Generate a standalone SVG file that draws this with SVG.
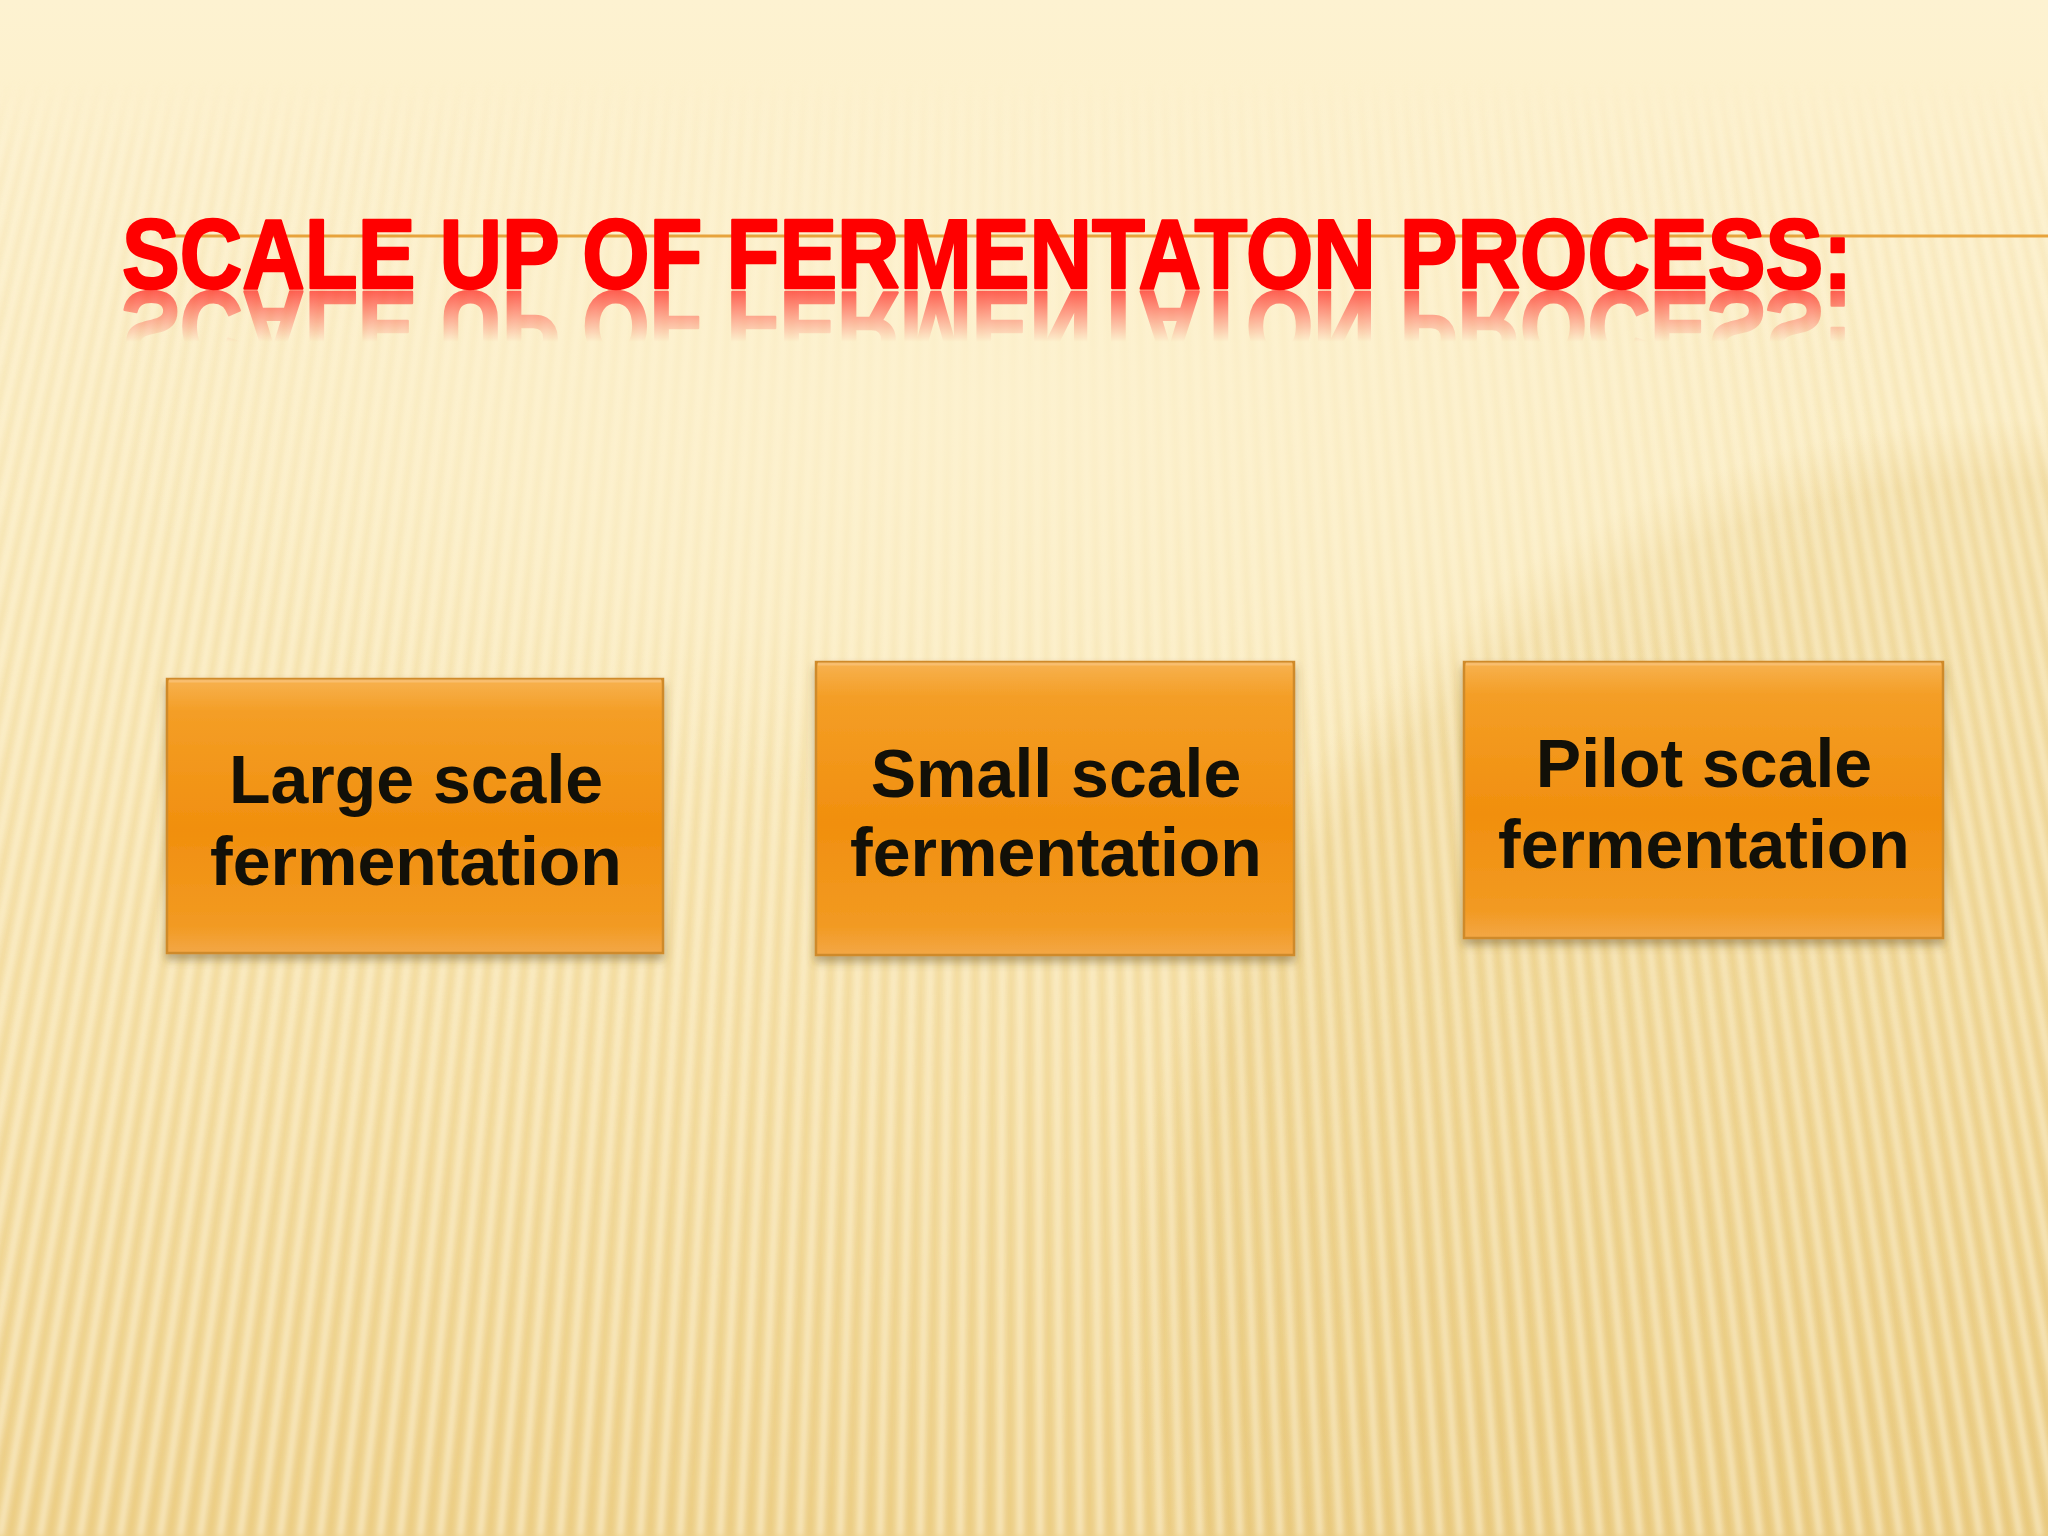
<svg xmlns="http://www.w3.org/2000/svg" xmlns:xlink="http://www.w3.org/1999/xlink" width="2048" height="1536" viewBox="0 0 2048 1536">
  <defs>
    <style>
      .title { font-family: "Liberation Sans", Arial, sans-serif; font-weight: bold; font-size: 99px; fill: #FF0000; stroke: #FF0000; stroke-width: 2.5; stroke-linejoin: round; }
      .lbl { font-family: "Liberation Sans", Arial, sans-serif; font-weight: bold; font-size: 68px; fill: #121008; text-anchor: middle; }
      .box { fill: url(#boxGrad); stroke: #CF8A2C; stroke-width: 2.5; filter: url(#shadow); }
      .hl { fill: none; stroke: #F9C277; stroke-width: 3; opacity: 0.8; }
      .stripes { fill: none; stroke-width: 7; }
    </style>
    <linearGradient id="bgGrad" x1="0" y1="0" x2="0" y2="1">
      <stop offset="0" stop-color="#FDF2D1"/>
      <stop offset="0.06" stop-color="#FDF1CD"/>
      <stop offset="0.35" stop-color="#FAEBBD"/>
      <stop offset="0.7" stop-color="#F5DFA4"/>
      <stop offset="1" stop-color="#EED18A"/>
    </linearGradient>
    <linearGradient id="boxGrad" x1="0" y1="0" x2="0" y2="1">
      <stop offset="0" stop-color="#F7B250"/>
      <stop offset="0.12" stop-color="#F49E26"/>
      <stop offset="0.55" stop-color="#F18F0E"/>
      <stop offset="0.9" stop-color="#F29A22"/>
      <stop offset="1" stop-color="#F3A746"/>
    </linearGradient>
    <linearGradient id="stripeFade" x1="0" y1="0" x2="0" y2="1536" gradientUnits="userSpaceOnUse">
      <stop offset="0" stop-color="#fff" stop-opacity="0"/>
      <stop offset="0.05" stop-color="#fff" stop-opacity="0"/>
      <stop offset="0.1" stop-color="#fff" stop-opacity="0.55"/>
      <stop offset="0.4" stop-color="#fff" stop-opacity="0.75"/>
      <stop offset="1" stop-color="#fff" stop-opacity="1"/>
    </linearGradient>
    <mask id="stripeMask" maskUnits="userSpaceOnUse" x="0" y="0" width="2048" height="1536">
      <rect x="0" y="0" width="2048" height="1536" fill="url(#stripeFade)"/>
    </mask>
    <radialGradient id="wash" cx="1000" cy="400" r="900" gradientUnits="userSpaceOnUse" gradientTransform="translate(1000,400) scale(1,0.45) translate(-1000,-400)">
      <stop offset="0" stop-color="#FDF2D0" stop-opacity="0.8"/>
      <stop offset="0.6" stop-color="#FDF2D0" stop-opacity="0.45"/>
      <stop offset="1" stop-color="#FDF2D0" stop-opacity="0"/>
    </radialGradient>
    <linearGradient id="reflFade" x1="0" y1="291" x2="0" y2="342" gradientUnits="userSpaceOnUse">
      <stop offset="0" stop-color="#fff" stop-opacity="0.6"/>
      <stop offset="1" stop-color="#fff" stop-opacity="0"/>
    </linearGradient>
    <mask id="reflMask" maskUnits="userSpaceOnUse" x="0" y="286" width="2048" height="80">
      <rect x="0" y="286" width="2048" height="80" fill="url(#reflFade)"/>
    </mask>
    <radialGradient id="circGrad" cx="0.5" cy="0.5" r="0.5">
      <stop offset="0.93" stop-color="#E3C270" stop-opacity="0.3"/>
      <stop offset="1" stop-color="#E3C270" stop-opacity="0"/>
    </radialGradient>
    <filter id="shadow" x="-5%" y="-5%" width="110%" height="125%">
      <feDropShadow dx="0" dy="6" stdDeviation="4" flood-color="#6A5228" flood-opacity="0.45"/>
    </filter>
    <filter id="soft" x="-2%" y="-2%" width="104%" height="104%">
      <feGaussianBlur stdDeviation="2.5"/>
    </filter>
    <path id="fan" d="M1 80L-340 1536M16 80L-320 1536M31 80L-300 1536M46 80L-280 1536M61 80L-260 1536M76 80L-240 1536M91 80L-220 1536M106 80L-200 1536M121 80L-180 1536M136 80L-160 1536M151 80L-140 1536M166 80L-120 1536M181 80L-100 1536M196 80L-80 1536M211 80L-60 1536M226 80L-40 1536M241 80L-20 1536M256 80L0 1536M271 80L20 1536M286 80L40 1536M301 80L60 1536M316 80L80 1536M331 80L100 1536M346 80L120 1536M361 80L140 1536M376 80L160 1536M391 80L180 1536M406 80L200 1536M421 80L220 1536M436 80L240 1536M451 80L260 1536M466 80L280 1536M481 80L300 1536M496 80L320 1536M511 80L340 1536M526 80L360 1536M541 80L380 1536M556 80L400 1536M571 80L420 1536M586 80L440 1536M601 80L460 1536M616 80L480 1536M631 80L500 1536M646 80L520 1536M661 80L540 1536M676 80L560 1536M691 80L580 1536M706 80L600 1536M721 80L620 1536M736 80L640 1536M751 80L660 1536M766 80L680 1536M781 80L700 1536M796 80L720 1536M811 80L740 1536M826 80L760 1536M841 80L780 1536M856 80L800 1536M871 80L820 1536M886 80L840 1536M901 80L860 1536M916 80L880 1536M931 80L900 1536M946 80L920 1536M961 80L940 1536M976 80L960 1536M991 80L980 1536M1006 80L1000 1536M1021 80L1020 1536M1036 80L1040 1536M1051 80L1060 1536M1066 80L1080 1536M1081 80L1100 1536M1096 80L1120 1536M1111 80L1140 1536M1126 80L1160 1536M1141 80L1180 1536M1156 80L1200 1536M1171 80L1220 1536M1186 80L1240 1536M1201 80L1260 1536M1216 80L1280 1536M1231 80L1300 1536M1246 80L1320 1536M1261 80L1340 1536M1276 80L1360 1536M1291 80L1380 1536M1306 80L1400 1536M1321 80L1420 1536M1336 80L1440 1536M1351 80L1460 1536M1366 80L1480 1536M1381 80L1500 1536M1396 80L1520 1536M1411 80L1540 1536M1426 80L1560 1536M1441 80L1580 1536M1456 80L1600 1536M1471 80L1620 1536M1486 80L1640 1536M1501 80L1660 1536M1516 80L1680 1536M1531 80L1700 1536M1546 80L1720 1536M1561 80L1740 1536M1576 80L1760 1536M1591 80L1780 1536M1606 80L1800 1536M1621 80L1820 1536M1636 80L1840 1536M1651 80L1860 1536M1666 80L1880 1536M1681 80L1900 1536M1696 80L1920 1536M1711 80L1940 1536M1726 80L1960 1536M1741 80L1980 1536M1756 80L2000 1536M1771 80L2020 1536M1786 80L2040 1536M1801 80L2060 1536M1816 80L2080 1536M1831 80L2100 1536M1846 80L2120 1536M1861 80L2140 1536M1876 80L2160 1536M1891 80L2180 1536M1906 80L2200 1536M1921 80L2220 1536M1936 80L2240 1536M1951 80L2260 1536M1966 80L2280 1536M1981 80L2300 1536M1996 80L2320 1536M2011 80L2340 1536M2026 80L2360 1536M2041 80L2380 1536M2056 80L2400 1536"/>
  </defs>

  <!-- background -->
  <rect x="0" y="0" width="2048" height="1536" fill="url(#bgGrad)"/>
  <circle cx="2010" cy="1300" r="880" fill="url(#circGrad)"/>
  <g mask="url(#stripeMask)" filter="url(#soft)">
    <use xlink:href="#fan" href="#fan" class="stripes" stroke="#FFFAE8" stroke-opacity="0.5"/>
    <use xlink:href="#fan" href="#fan" class="stripes" stroke="#DDB864" stroke-opacity="0.16" transform="translate(9,0)"/>
  </g>
  <rect x="0" y="0" width="2048" height="900" fill="url(#wash)"/>

  <!-- title rule -->
  <line x1="170" y1="236" x2="2048" y2="236" stroke="#E7A33C" stroke-width="3"/>

  <!-- title -->
  <g id="title">
    <text id="titleText" class="title" x="122" y="288" textLength="1730" lengthAdjust="spacingAndGlyphs">SCALE UP OF FERMENTATON PROCESS:</text>
    <g mask="url(#reflMask)">
      <use xlink:href="#titleText" href="#titleText" transform="translate(0,580) scale(1,-1)"/>
    </g>
  </g>

  <!-- nodes -->
  <g id="node-large">
    <rect class="box" x="167" y="679" width="496" height="274"/>
    <line class="hl" x1="169" y1="681" x2="661" y2="681"/>
    <text class="lbl" x="416" y="803">Large scale</text>
    <text class="lbl" x="416" y="885">fermentation</text>
  </g>
  <g id="node-small">
    <rect class="box" x="816" y="662" width="478" height="293"/>
    <line class="hl" x1="818" y1="664" x2="1292" y2="664"/>
    <text class="lbl" x="1056" y="797">Small scale</text>
    <text class="lbl" x="1056" y="876">fermentation</text>
  </g>
  <g id="node-pilot">
    <rect class="box" x="1464" y="662" width="479" height="276"/>
    <line class="hl" x1="1466" y1="664" x2="1941" y2="664"/>
    <text class="lbl" x="1704" y="787">Pilot scale</text>
    <text class="lbl" x="1704" y="868">fermentation</text>
  </g>

  <g id="connectors"/>
</svg>
